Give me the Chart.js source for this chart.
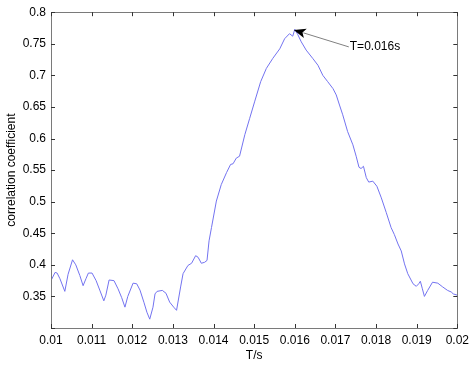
<!DOCTYPE html>
<html>
<head>
<meta charset="utf-8">
<script src="https://cdn.jsdelivr.net/npm/chart.js@4/dist/chart.umd.min.js"></script>
<style>
  html, body { margin: 0; padding: 0; background: #fff; }
  canvas { display: block; }
</style>
</head>
<body>
<canvas id="c" width="474" height="366"></canvas>
<script>
// ---- data ----
const timeS = [
  0.01000, 0.01010, 0.01015, 0.01022, 0.01034, 0.01042, 0.01053, 0.01061, 0.01071, 0.01079,
  0.01086, 0.01092, 0.01101, 0.01111, 0.01120, 0.01130, 0.01135, 0.01143, 0.01155, 0.01165,
  0.01174, 0.01182, 0.01189, 0.01202, 0.01211, 0.01219, 0.01229, 0.01236, 0.01243, 0.01251,
  0.01256, 0.01261, 0.01274, 0.01283, 0.01292, 0.01302, 0.01309, 0.01319, 0.01325, 0.01337,
  0.01346, 0.01356, 0.01362, 0.01370, 0.01378, 0.01384, 0.01389, 0.01395, 0.01407, 0.01419,
  0.01432, 0.01442, 0.01448, 0.01456, 0.01464, 0.01469, 0.01477, 0.01489, 0.01501, 0.01516,
  0.01530, 0.01546, 0.01563, 0.01575, 0.01587, 0.01595, 0.01600, 0.01607, 0.01616, 0.01628,
  0.01644, 0.01657, 0.01669, 0.01681, 0.01694, 0.01702, 0.01710, 0.01718, 0.01730, 0.01743,
  0.01751, 0.01758, 0.01763, 0.01769, 0.01776, 0.01782, 0.01792, 0.01802, 0.01813, 0.01825,
  0.01837, 0.01845, 0.01854, 0.01862, 0.01870, 0.01878, 0.01891, 0.01899, 0.01905, 0.01909,
  0.01914, 0.01919, 0.01927, 0.01939, 0.01952, 0.01964, 0.01976, 0.01985, 0.01990, 0.02000
];
const corr = [
  0.375, 0.388, 0.387, 0.378, 0.358, 0.385, 0.408, 0.400, 0.383, 0.367,
  0.378, 0.387, 0.387, 0.375, 0.360, 0.343, 0.352, 0.376, 0.375, 0.362,
  0.348, 0.333, 0.350, 0.371, 0.370, 0.360, 0.340, 0.325, 0.314, 0.333,
  0.354, 0.358, 0.3595, 0.355, 0.341, 0.333, 0.328, 0.365, 0.386, 0.399,
  0.4025, 0.4145, 0.412, 0.4025, 0.404, 0.407, 0.438, 0.459, 0.501, 0.527,
  0.546, 0.559, 0.560, 0.569, 0.572, 0.585, 0.606, 0.632, 0.658, 0.690,
  0.711, 0.727, 0.742, 0.758, 0.766, 0.762, 0.773, 0.765, 0.753, 0.740,
  0.727, 0.716, 0.700, 0.690, 0.679, 0.669, 0.653, 0.6375, 0.611, 0.590,
  0.572, 0.5545, 0.5525, 0.556, 0.538, 0.531, 0.5325, 0.5245, 0.506, 0.483,
  0.459, 0.448, 0.433, 0.422, 0.4015, 0.386, 0.370, 0.366, 0.370, 0.374,
  0.362, 0.350, 0.3595, 0.3725, 0.371, 0.365, 0.3595, 0.357, 0.354, 0.352
];
const xTickValues = [0.01, 0.011, 0.012, 0.013, 0.014, 0.015, 0.016, 0.017, 0.018, 0.019, 0.02];
const yTickValues = [0.3, 0.35, 0.4, 0.45, 0.5, 0.55, 0.6, 0.65, 0.7, 0.75, 0.8];
const xLabel = 'T/s';
const yLabel = 'correlation coefficient';
const peakT = 0.016;
const peakV = 0.772;
const peakText = 'T=0.016s';

const FONT = 'Liberation Sans, Arial, Helvetica, sans-serif';
const fmt = v => String(Number(v.toFixed(4)));

const framePlugin = {
  id: 'frame',
  afterDraw(chart) {
    const {ctx, chartArea: a, scales: {x, y}} = chart;
    ctx.save();
    ctx.strokeStyle = '#7a7a7a';
    ctx.lineWidth = 1;
    ctx.strokeRect(Math.round(a.left) + 0.5, Math.round(a.top) + 0.5,
                   Math.round(a.right - a.left), Math.round(a.bottom - a.top));
    ctx.strokeStyle = '#333';
    ctx.beginPath();
    const L = 4;
    xTickValues.forEach(v => {
      const px = Math.round(x.getPixelForValue(v)) + 0.5;
      ctx.moveTo(px, a.bottom); ctx.lineTo(px, a.bottom - L);
      ctx.moveTo(px, a.top); ctx.lineTo(px, a.top + L);
    });
    yTickValues.forEach(v => {
      const py = Math.round(y.getPixelForValue(v)) + 0.5;
      ctx.moveTo(a.left, py); ctx.lineTo(a.left + L, py);
      ctx.moveTo(a.right, py); ctx.lineTo(a.right - L, py);
    });
    ctx.stroke();

    // annotation arrow
    const tx = x.getPixelForValue(peakT) - 1;
    const ty = y.getPixelForValue(peakV);
    const sx = tx + 55, sy = ty + 17;
    const ang = Math.atan2(sy - ty, sx - tx);
    ctx.strokeStyle = '#808080';
    ctx.beginPath();
    ctx.moveTo(sx, sy);
    ctx.lineTo(tx + 10 * Math.cos(ang), ty + 10 * Math.sin(ang));
    ctx.stroke();
    ctx.fillStyle = '#000';
    ctx.beginPath();
    ctx.moveTo(tx, ty);
    const hl = 13, hw = 0.38;
    ctx.lineTo(tx + hl * Math.cos(ang + hw), ty + hl * Math.sin(ang + hw));
    ctx.lineTo(tx + hl * 0.7 * Math.cos(ang), ty + hl * 0.7 * Math.sin(ang));
    ctx.lineTo(tx + hl * Math.cos(ang - hw), ty + hl * Math.sin(ang - hw));
    ctx.closePath();
    ctx.fill();
    ctx.font = '12px ' + FONT;
    ctx.textBaseline = 'middle';
    ctx.textAlign = 'left';
    ctx.fillText(peakText, sx + 1, sy);
    ctx.restore();
  }
};

new Chart(document.getElementById('c'), {
  type: 'line',
  data: {
    datasets: [{
      data: timeS.map((t, i) => ({x: t, y: corr[i]})),
      borderColor: 'rgb(115,115,240)',
      borderWidth: 1,
      pointRadius: 0,
      tension: 0,
      fill: false
    }]
  },
  options: {
    responsive: false,
    animation: false,
    devicePixelRatio: 1,
    layout: { padding: { top: 10, right: 16, left: 0, bottom: 0 } },
    plugins: { legend: { display: false }, tooltip: { enabled: false } },
    scales: {
      x: {
        type: 'linear',
        min: 0.01, max: 0.02,
        afterBuildTicks: s => { s.ticks = xTickValues.map(v => ({value: v})); },
        afterFit: s => { s.height = 38; },
        grid: { display: false, drawTicks: false },
        border: { display: false },
        ticks: { color: '#000', padding: 5, maxRotation: 0, autoSkip: false,
                 font: { family: FONT, size: 12 }, callback: v => fmt(v) },
        title: { display: true, text: xLabel, color: '#000',
                 font: { family: FONT, size: 12 }, padding: { top: 0, bottom: 3 } }
      },
      y: {
        type: 'linear',
        min: 0.3, max: 0.8,
        afterBuildTicks: s => { s.ticks = yTickValues.map(v => ({value: v})); },
        afterFit: s => { s.width = 51; },
        grid: { display: false, drawTicks: false },
        border: { display: false },
        ticks: { color: '#000', padding: 5, autoSkip: false,
                 font: { family: FONT, size: 12 },
                 callback: v => (v < 0.301 ? '' : fmt(v)) },
        title: { display: true, text: yLabel, color: '#000',
                 font: { family: FONT, size: 12 }, padding: { top: 4, bottom: 0 } }
      }
    }
  },
  plugins: [framePlugin]
});
</script>
</body>
</html>
